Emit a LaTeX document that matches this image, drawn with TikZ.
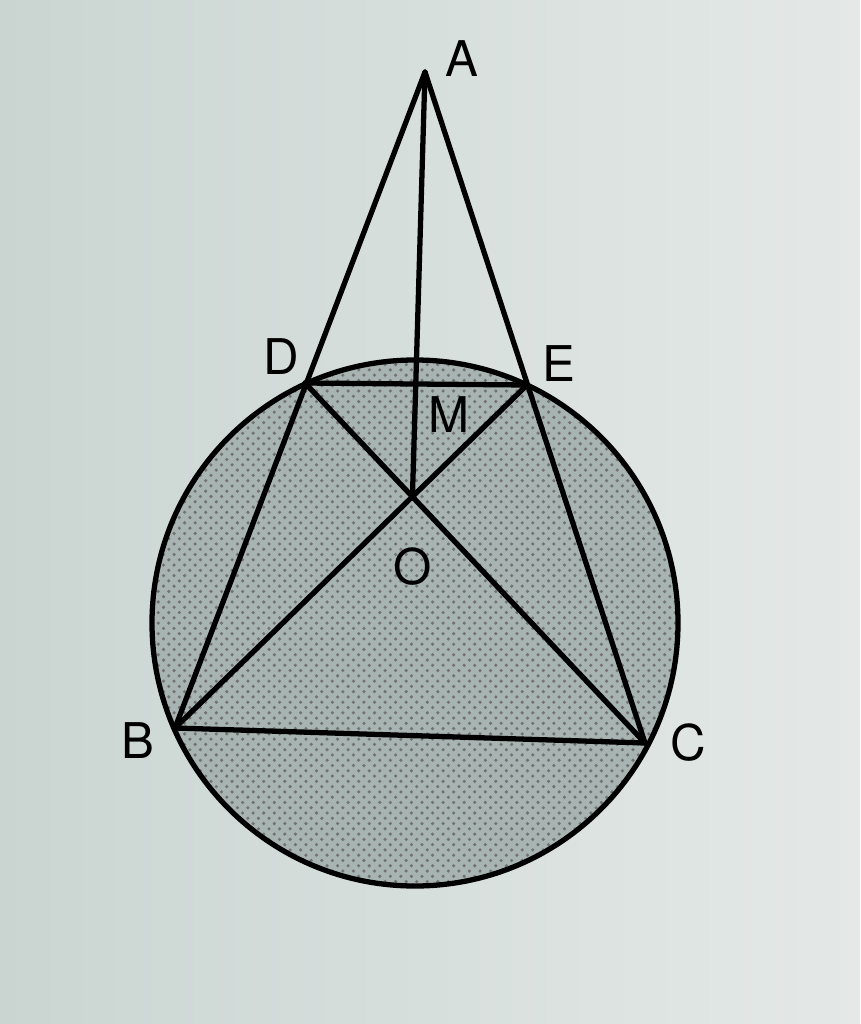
\documentclass[tikz,border=0pt]{standalone}
\usepackage{fontspec}
\setmainfont{TeX Gyre Heros}
\usepackage{tikz}
\usetikzlibrary{positioning,patterns}
\definecolor{paper}{RGB}{202,213,210}
\definecolor{paperlight}{RGB}{228,233,231}
\definecolor{disc}{RGB}{168,180,177}
\tikzstyle{lbl} =
[
	inner sep=0pt, font=\fontsize{14}{16}\selectfont
]
\tikzstyle{seg} =
[
	line width=1.5pt, line cap=round, line join=round
]

\begin{document}
\begin{tikzpicture}[x=0.01cm,y=-0.01cm]

\shade[left color=paper, right color=paperlight] (0,0) rectangle (860,1024);
\useasboundingbox (0,0) rectangle (860,1024);

\coordinate (A) at (425,72);
\coordinate (B) at (175,728);
\coordinate (C) at (645,743);
\coordinate (D) at (305,383);
\coordinate (E) at (527,385);
\coordinate (Z) at (415,623);
\coordinate (O) at (intersection of D--C and E--B);
\coordinate (M) at (intersection of A--O and D--E);

% shaded disc
\fill[disc] (Z) circle[radius=263];
\fill[pattern=crosshatch dots, pattern color=black!55] (Z) circle[radius=263];
\draw[seg] (Z) circle[radius=263];

\draw[seg] (A) -- (B) -- (C) -- cycle;
\draw[seg] (A) -- (O);
\draw[seg] (D) -- (E);
\draw[seg] (D) -- (C);
\draw[seg] (E) -- (B);

\node[lbl] (lA) [above right=-0.05cm and 0.2cm of A] {A};
\node[lbl] (lD) [above left=0.08cm and 0.05cm of D] {D};
\node[lbl] (lE) [above right=0.03cm and 0.15cm of E] {E};
\node[lbl] (lM) [below right=0.12cm and 0.12cm of M] {M};
\node[lbl] (lO) [below=0.5cm of O] {O};
\node[lbl] (lB) [left=0.2cm of B, yshift=-0.13cm] {B};
\node[lbl] (lC) [right=0.25cm of C] {C};

\end{tikzpicture}
\end{document}
